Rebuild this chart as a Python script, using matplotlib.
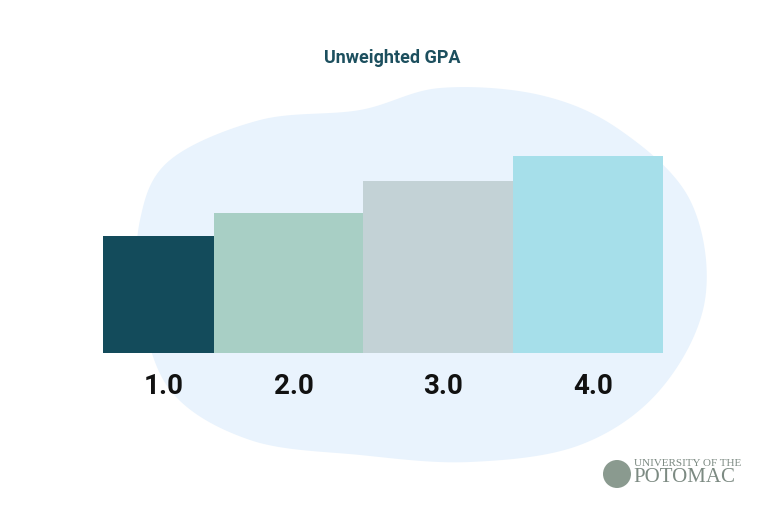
import numpy as np
import matplotlib.pyplot as plt
from matplotlib.patches import Polygon, Circle

categories = ['1.0', '2.0', '3.0', '4.0']
values = [117, 140, 172, 197]
widths = [111, 149, 150, 150]
colors = ['#134b5b', '#a8cfc5', '#c3d2d6', '#a6dfea']

# blob outline points (pixel coords)
blob = np.array([(170, 160), (260, 120), (360, 110), (440, 88), (540, 95),
                 (620, 130), (690, 200), (705, 300), (660, 390), (580, 445),
                 (470, 462), (360, 455), (250, 440), (170, 390), (140, 300), (140, 220)], float)


def catmull(pts, n=30):
    out = []
    k = len(pts)
    for i in range(k):
        p0, p1, p2, p3 = pts[i - 1], pts[i], pts[(i + 1) % k], pts[(i + 2) % k]
        for t in np.linspace(0, 1, n, endpoint=False):
            out.append(0.5 * ((2 * p1) + (-p0 + p2) * t + (2 * p0 - 5 * p1 + 4 * p2 - p3) * t ** 2
                              + (-p0 + 3 * p1 - 3 * p2 + p3) * t ** 3))
    return np.array(out)


fig = plt.figure(figsize=(7.68, 5.07), dpi=100)
ax = fig.add_axes([0, 0, 1, 1])
ax.set_xlim(0, 768)
ax.set_ylim(507, 0)
ax.axis('off')

ax.add_patch(Polygon(catmull(blob), closed=True, facecolor='#e9f3fd', edgecolor='none', zorder=0))

baseline = 353
lefts = 103 + np.concatenate([[0], np.cumsum(widths)[:-1]])
ax.bar(lefts, [-v for v in values], width=widths, bottom=baseline, align='edge',
       color=colors, zorder=2)
for l, w, c in zip(lefts, widths, categories):
    ax.text(l + w / 2 + 5, 386, c, ha='center', va='center', fontsize=20,
            fontweight='bold', color='#111111', family='Roboto')

ax.text(392, 58, 'Unweighted GPA', ha='center', va='center', fontsize=13,
        fontweight='bold', color='#1c4f5e', family='Roboto')

# logo
ax.add_patch(Circle((617, 474), 14, facecolor='#8a9a8f', edgecolor='none'))
ax.text(634, 468, 'UNIVERSITY OF THE', fontsize=8, color='#7c8a82', va='bottom',
        family='Liberation Serif')
ax.text(633, 487, 'POTOMAC', fontsize=15, color='#7c8a82', va='bottom',
        family='Liberation Serif')

fig.savefig('out.png', dpi=100)
